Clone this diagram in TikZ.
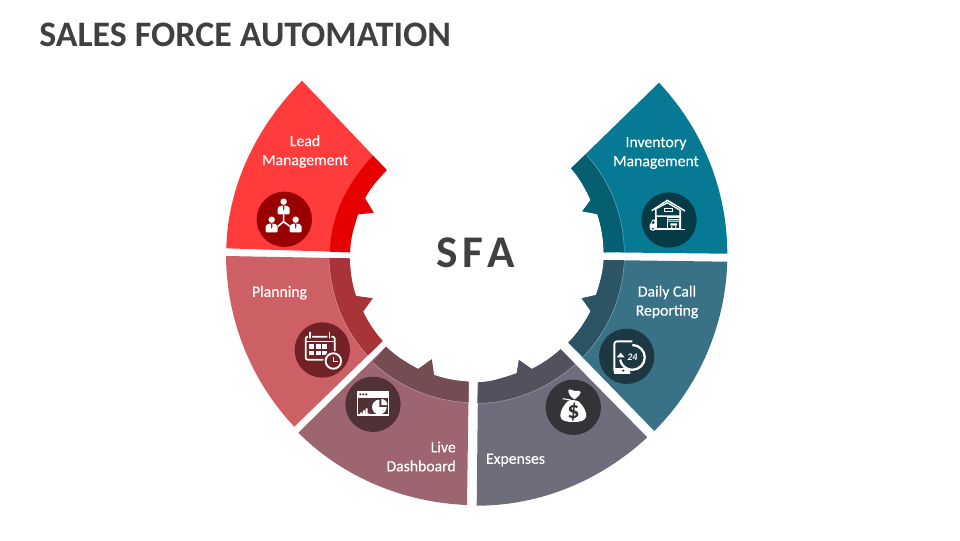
\documentclass[tikz,border=0pt]{standalone}
\usepackage{fontspec}
\setmainfont{Carlito}
\usetikzlibrary{calc}
\definecolor{leadM}{HTML}{FF3B3B}\definecolor{leadB}{HTML}{E60000}\definecolor{leadC}{HTML}{990000}
\definecolor{invM}{HTML}{067A94}\definecolor{invB}{HTML}{055F70}\definecolor{invC}{HTML}{043B47}
\definecolor{plaM}{HTML}{CD6065}\definecolor{plaB}{HTML}{A83338}\definecolor{plaC}{HTML}{722226}
\definecolor{dayM}{HTML}{397287}\definecolor{dayB}{HTML}{2B5565}\definecolor{dayC}{HTML}{1D3841}
\definecolor{dasM}{HTML}{9C6570}\definecolor{dasB}{HTML}{744C52}\definecolor{dasC}{HTML}{503136}
\definecolor{expM}{HTML}{6D6D7B}\definecolor{expB}{HTML}{52525E}\definecolor{expC}{HTML}{343438}
\definecolor{ink}{HTML}{404040}
\tikzset{
  rarc/.style={to path={
    let \p1=($(\tikztostart)-(O)$), \p2=($(\tikztotarget)-(\tikztostart)$),
    \n1={veclen(\x1,\y1)}, \n2={veclen(\x2,\y2)},
    \n3={\n1*4/3*tan(asin(\n2/(2*\n1))/2)} in
    .. controls ($(\tikztostart)!\n3!#1:(O)$) and ($(\tikztotarget)!\n3!-#1:(O)$) .. (\tikztotarget)
  }},
  arccw/.style={rarc=90},
  arcccw/.style={rarc=-90},
  label text/.style={text=white,font=\fontsize{11.8pt}{14.25pt}\selectfont\addfontfeature{FakeBold=0.25},align=center,inner sep=0pt},
  disc/.style={circle,minimum size=41.5pt,inner sep=0pt},
  seam/.style={line width=.35pt,white,opacity=.45},
  icon/.style={x=.25pt,y=-.25pt},
}
\begin{document}
\begin{tikzpicture}[x=.75pt,y=-.75pt]
\useasboundingbox (0,0) rectangle (960,540);
\coordinate (O) at (477,254);
\node[anchor=west,inner sep=0pt,text=ink,font=\fontsize{26.9pt}{30pt}\selectfont\bfseries] (title) at (39,34.7) {SALES FORCE AUTOMATION};

% Lead
\fill[leadM] (226.3,248.3) to[arccw] (302,80.7) -- (386.7,170) to[arcccw] (365,198.3) -- (373.7,212.7) -- (358,214.3) to[arcccw] (350,252.3) -- cycle;
\fill[leadB] (373,155.7) -- (386.7,170) to[arcccw] (365,198.3) -- (373.7,212.7) -- (358,214.3) to[arcccw] (350,252.3) -- (330,251.7) to[arccw] (373,155.7) -- cycle;
% Inventory
\fill[invM] (727.3,253.7) to[arcccw] (659,82.7) -- (571,168.3) to[arccw] (590.7,200) -- (582.3,211.3) -- (597.3,214) to[arccw] (603.7,252.3) -- cycle;
\fill[invB] (586,154.3) -- (571,168.3) to[arccw] (590.7,200) -- (582.3,211.3) -- (597.3,214) to[arccw] (603.7,252.3) -- (624.3,251.7) to[arcccw] (586,154.3) -- cycle;
\draw[seam] (624.3,251.7) to[arcccw] (586,154.3);
% Planning
\fill[plaM] (226,256) to[arcccw] (294.3,426.7) -- (382.7,341) to[arccw] (363,311.7) -- (372.7,298.3) -- (356,296) to[arccw] (349.7,258.3) -- cycle;
\fill[plaB] (329,258) to[arcccw] (367.7,355.7) -- (382.7,341) to[arccw] (363,311.7) -- (372.7,298.3) -- (356,296) to[arccw] (349.7,258.3) -- cycle;
\draw[seam] (329,258) to[arcccw] (367.7,355.7);
% Dashboard
\fill[dasM] (298.3,432.7) to[arcccw] (467,505) -- (468.7,381.7) to[arccw] (434,375) -- (431.7,359.3) -- (418.3,369) to[arccw] (386,346.7) -- cycle;
\fill[dasB] (372.7,362.3) to[arcccw] (468.7,402.7) -- (468.7,381.7) to[arccw] (434,375) -- (431.7,359.3) -- (418.3,369) to[arccw] (386,346.7) -- cycle;
\draw[seam] (372.7,362.3) to[arcccw] (468.7,402.7);
% Expenses
\fill[expM] (476.7,505.7) to[arcccw] (647.3,437.3) -- (560.7,349.3) to[arccw] (531.7,369) -- (519,360) -- (516.7,373.3) to[arccw] (478,382.3) -- cycle;
\fill[expB] (477.3,403.3) to[arcccw] (575.3,364.3) -- (560.7,349.3) to[arccw] (531.7,369) -- (519,360) -- (516.7,373.3) to[arccw] (478,382.3) -- cycle;
\draw[seam] (477.3,403.3) to[arcccw] (575.3,364.3);
% Daily
\fill[dayM] (654.3,431) to[arcccw] (727.3,261.7) -- (603.7,260) to[arccw] (596,295) -- (581.7,298.3) -- (590.7,311) to[arccw] (568.3,342.7) -- cycle;
\fill[dayB] (583.3,356.7) to[arcccw] (624.3,260) -- (603.7,260) to[arccw] (596,295) -- (581.7,298.3) -- (590.7,311) to[arccw] (568.3,342.7) -- cycle;
\draw[seam] (583.3,356.7) to[arcccw] (624.3,260);

% Centre
\node[inner sep=0pt,text=ink,font=\fontsize{34pt}{40pt}\selectfont\bfseries] (sfa) at (476,253) {S\hspace{3.2pt}F\hspace{3.2pt}A};

% Labels
\node[label text] (leadT) at (305,151.5) {Lead\\Management};
\node[label text] (invT) at (656,153) {Inventory\\Management};
\node[label text] (plaT) at (279.5,292.7) {Planning};
\node[label text] (dayT) at (667,302) {Daily Call\\Reporting};
\node[label text,align=right,anchor=east] (dasT) at (456,456.5) {Live\\Dashboard};
\node[label text] (expT) at (515.5,460) {Expenses};

% Discs
\node[disc,fill=leadC] (leadD) at (284.3,219.3) {};
\node[disc,fill=invC] (invD) at (669,220) {};
\node[disc,fill=plaC] (plaD) at (322.3,350) {};
\node[disc,fill=dayC] (dayD) at (626.7,356.3) {};
\node[disc,fill=dasC] (dasD) at (373,404.3) {};
\node[disc,fill=expC] (expD) at (573.3,407.3) {};

% Icon: people
\begin{scope}[shift={(250,185)},icon]
  \foreach \hx/\hy in {101/50,65/104,137/104}{
    \fill[white] (\hx,\hy) circle[radius=2.4pt];
    \fill[white,rounded corners=.8pt] (\hx-18,\hy+38) -- (\hx-18,\hy+18) -- (\hx-9,\hy+12) -- (\hx+9,\hy+12) -- (\hx+18,\hy+18) -- (\hx+18,\hy+38) -- cycle;
    \fill[leadC!70!leadM] (\hx-2.5,\hy+12) -- (\hx+2.5,\hy+12) -- (\hx+1.5,\hy+26) -- (\hx-1.5,\hy+26) -- cycle;
  }
  \draw[white,line width=1.2pt] (101,88) -- (101,110) -- (84,124) (101,110) -- (119,124);
\end{scope}

% Icon: warehouse
\begin{scope}[shift={(635,185)},icon]
  \draw[white,line width=1.1pt,line join=miter] (50,77) -- (97,46) -- (150,78);
  \fill[white] (60,72) -- (97,51) -- (138,75) -- (138,133) -- (60,133) -- cycle;
  \fill[invC] (65,73) -- (97,56) -- (133,77) -- (133,91) -- (65,91) -- cycle;
  \draw[white,line width=.7pt] (87,70) rectangle (111,80);
  \fill[invC] (98,99) rectangle (133,102) (98,106) rectangle (133,109);
  \fill[invC] (98,111) rectangle (133,130);
  \fill[invC] (66,96) rectangle (96,130);
  \fill[white] (106,115) rectangle (126,122) (108,124) rectangle (112,131) (120,124) rectangle (124,131);
  \draw[white,line width=.8pt] (45,133) -- (150,133);
  \fill[white] (44,131) -- (44,120) -- (53,104) -- (62,104) -- (62,131) -- cycle;
  \fill[invC] (49,116) -- (54,108) -- (58,108) -- (58,116) -- cycle;
  \fill[white] (54,131) circle[radius=1.6pt];
  \fill[invC] (54,131) circle[radius=.7pt];
\end{scope}

% Icon: calendar and clock
\begin{scope}[shift={(295,325)},icon]
  \draw[white,line width=1.25pt,rounded corners=1.5pt] (32,35) rectangle (119,104);
  \draw[white,line width=1.25pt] (32,49) -- (119,49);
  \fill[plaC] (39,20) rectangle (51,42) (97,20) rectangle (109,42);
  \draw[white,line width=1pt,line cap=round] (45,22) -- (45,39) (103,22) -- (103,39);
  \foreach \gx in {42,62,82}{\foreach \gy in {57,77}{\fill[white] (\gx,\gy) rectangle +(15,14);}}
  \fill[plaC] (115,108) circle[radius=7.6pt];
  \draw[white,line width=1.4pt] (115,108) circle[radius=5.8pt];
  \draw[white,line width=1pt] (115,95) -- (115,110) -- (128,110);
\end{scope}

% Icon: phone with 24h arrow
\begin{scope}[shift={(595,325)},icon]
  \draw[white,line width=1.4pt,rounded corners=2pt] (112,49) -- (58,49) -- (58,144) -- (106,144);
  \fill[white] (58,130) rectangle (106,146);
  \fill[dayC] (85,137) circle[radius=.9pt];
  \draw[white,line width=1.7pt] (112,60) arc[start angle=90,end angle=-170,radius=9.3pt];
  \fill[white] (77,83) -- (65,97) -- (89,97) -- cycle;
  \node[text=white,inner sep=0pt,font=\fontsize{7.5pt}{8pt}\selectfont\bfseries\itshape] (day24) at (112,98) {24};
\end{scope}

% Icon: dashboard window
\begin{scope}[shift={(340,375)},icon]
  \fill[white] (50,48) rectangle (147,122);
  \fill[dasC] (54,68) rectangle (143,118);
  \foreach \dx in {61,70,79}{\fill[dasC] (\dx,58) circle[radius=.9pt];}
  \fill[white] (61,112) rectangle (67,118) (69,106) rectangle (75,118) (77,100) rectangle (83,118) (59,116) rectangle (90,119);
  \fill[white] (118,96) -- (118,74) arc[start angle=90,end angle=360,radius=5.5pt] -- cycle;
  \fill[white] (124,90) -- (124,72) arc[start angle=90,end angle=0,radius=4.5pt] -- cycle;
\end{scope}

% Icon: money bag
\begin{scope}[shift={(540,380)},icon]
  \fill[white] (85,30) .. controls (92,24) and (100,35) .. (108,33) .. controls (116,30) and (125,33) .. (122,38) .. controls (118,48) and (108,55) .. (103,58) .. controls (92,52) and (84,40) .. (85,30) -- cycle;
  \draw[white,line width=.8pt] (68,56) -- (92,60);
  \fill[white] (85,62) .. controls (95,59) and (110,60) .. (118,66) .. controls (130,78) and (140,95) .. (139,108) .. controls (137,122) and (122,126) .. (100,126) .. controls (78,126) and (62,122) .. (61,108) .. controls (60,92) and (72,74) .. (85,62) -- cycle;
  \node[text=expC,inner sep=0pt,font=\fontsize{18pt}{20pt}\selectfont\bfseries] (dollar) at (100,97) {\$};
\end{scope}
\end{tikzpicture}
\end{document}
